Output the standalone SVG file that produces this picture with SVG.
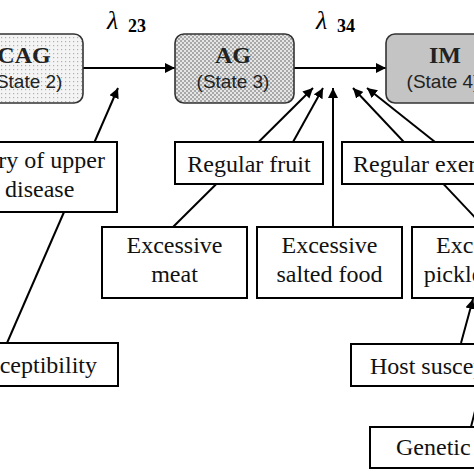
<svg xmlns="http://www.w3.org/2000/svg" width="474" height="474" viewBox="0 0 474 474">
<defs>
<pattern id="dots" width="4" height="4" patternUnits="userSpaceOnUse">
<rect width="4" height="4" fill="#f4f4f4"/>
<rect x="1" y="1" width="1.2" height="1.2" fill="#b0b0b0"/>
</pattern>
<pattern id="check" width="4" height="4" patternUnits="userSpaceOnUse">
<rect width="4" height="4" fill="#e6e6e6"/>
<rect width="2" height="2" fill="#a8a8a8"/>
<rect x="2" y="2" width="2" height="2" fill="#a8a8a8"/>
</pattern>
<marker id="ah" viewBox="0 0 10 10" refX="10" refY="5" markerWidth="10" markerHeight="10" markerUnits="userSpaceOnUse" orient="auto">
<path d="M0,0 L10,5 L0,10 Z" fill="#000"/>
</marker>
</defs>
<style>
.st{stroke:#333;stroke-width:1.6}
.bx{fill:#fff;stroke:#000;stroke-width:2}
.cn{stroke:#000;stroke-width:2;fill:none}
.ar{stroke:#000;stroke-width:2;fill:none;marker-end:url(#ah)}
.t{font-family:"Liberation Serif","Times New Roman",serif;font-size:24px;fill:#111}
.tb{font-family:"Liberation Serif","Times New Roman",serif;font-size:24px;font-weight:bold;fill:#222;text-anchor:middle}
.ts{font-family:"Liberation Sans",Arial,sans-serif;font-size:19px;fill:#222;text-anchor:middle}
.lam{font-family:"Liberation Serif","Times New Roman",serif;font-style:italic;font-size:26px;fill:#000}
.sub{font-family:"Liberation Serif","Times New Roman",serif;font-weight:bold;font-size:18px;fill:#000}
.m{text-anchor:middle}
</style>
<rect width="474" height="474" fill="#fff"/>
<g id="connectors">
<line class="ar" x1="83" y1="68" x2="175" y2="68"/>
<line class="ar" x1="294" y1="68" x2="386" y2="68"/>
<line class="ar" x1="7" y1="343" x2="118" y2="88"/>
<line class="ar" x1="173" y1="227" x2="313" y2="88"/>
<line class="ar" x1="293" y1="142" x2="323" y2="88"/>
<line class="ar" x1="333" y1="227" x2="333" y2="88"/>
<line class="ar" x1="484" y1="227" x2="353" y2="88"/>
<line class="ar" x1="435" y1="142" x2="367" y2="88"/>
<line class="ar" x1="461" y1="343" x2="473" y2="299"/>
<line class="ar" x1="471" y1="427" x2="481" y2="387"/>
<text class="lam" x="107" y="29">λ</text>
<text class="sub" x="128" y="32">23</text>
<text class="lam" x="316" y="29">λ</text>
<text class="sub" x="337" y="32">34</text>
</g>
<g id="cag">
<rect class="st" x="-36" y="34" width="119" height="69" rx="9" fill="url(#dots)"/>
<text class="tb" x="24" y="63">CAG</text>
<text class="ts" x="26" y="88">(State 2)</text>
</g>
<g id="ag">
<rect class="st" x="175" y="34" width="119" height="69" rx="9" fill="url(#check)"/>
<text class="tb" x="233" y="63">AG</text>
<text class="ts" x="233" y="88">(State 3)</text>
</g>
<g id="im">
<rect class="st" x="386" y="34" width="119" height="69" rx="9" fill="#c4c4c4"/>
<text class="tb" x="445" y="63">IM</text>
<text class="ts" x="443" y="88">(State 4)</text>
</g>
<g id="history">
<rect class="bx" x="-10" y="142" width="127" height="70"/>
<text class="t" x="105" y="168" text-anchor="end">ry of upper</text>
<text class="t" x="5" y="197">disease</text>
</g>
<g id="fruit">
<rect class="bx" x="175" y="142" width="148" height="42"/>
<text class="t m" x="249" y="172">Regular fruit</text>
</g>
<g id="exercise">
<rect class="bx" x="342" y="142" width="180" height="42"/>
<text class="t" x="353" y="172">Regular exercise</text>
</g>
<g id="meat">
<rect class="bx" x="102" y="227" width="145" height="71"/>
<text class="t m" x="174.5" y="253">Excessive</text>
<text class="t m" x="174.5" y="282">meat</text>
</g>
<g id="salted">
<rect class="bx" x="257" y="227" width="145" height="71"/>
<text class="t m" x="329.5" y="253">Excessive</text>
<text class="t m" x="329.5" y="282">salted food</text>
</g>
<g id="pickled">
<rect class="bx" x="412" y="227" width="145" height="71"/>
<text class="t m" x="484" y="253">Excessive</text>
<text class="t m" x="484" y="282">pickled food</text>
</g>
<g id="susc-left">
<rect class="bx" x="-10" y="343" width="128" height="43"/>
<text class="t" x="97" y="373" text-anchor="end">ceptibility</text>
</g>
<g id="susc-right">
<rect class="bx" x="351" y="344" width="217" height="42"/>
<text class="t" x="370" y="374">Host susceptibility</text>
</g>
<g id="genetic">
<rect class="bx" x="370" y="427" width="150" height="41"/>
<text class="t" x="396" y="455">Genetic</text>
</g>
</svg>
